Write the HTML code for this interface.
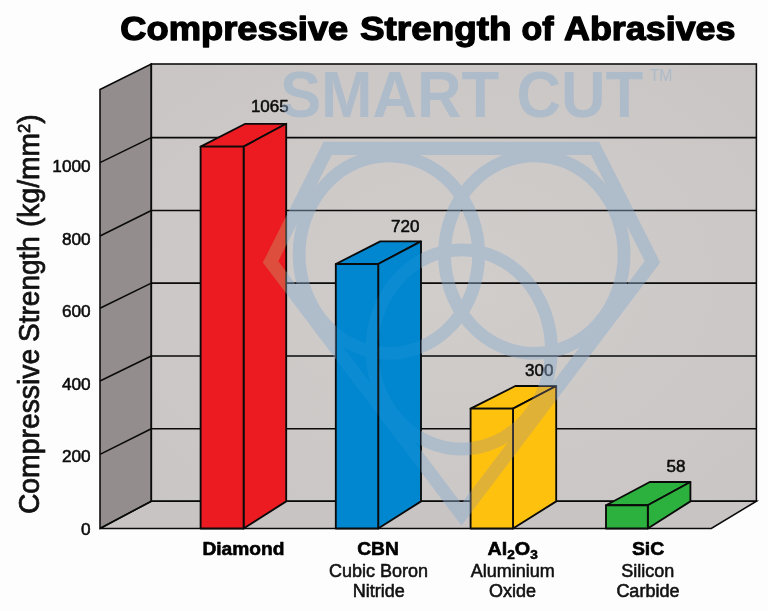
<!DOCTYPE html>
<html>
<head>
<meta charset="utf-8">
<title>Compressive Strength of Abrasives</title>
<style>
  html, body { margin: 0; padding: 0; background: #fdfdfd; }
  body { width: 768px; height: 611px; overflow: hidden; font-family: "Liberation Sans", sans-serif; }
  svg { display: block; will-change: transform; }
  text { font-family: "Liberation Sans", sans-serif; }
  .ln { stroke: #0a0a0a; stroke-width: 1.55; stroke-linejoin: miter; fill: none; }
  .reg { stroke: #0c0c0c; stroke-width: 0.55; stroke-linejoin: round; paint-order: stroke fill; }
  .title { font-weight: bold; stroke: #000; stroke-width: 1.3; stroke-linejoin: round; paint-order: stroke fill; }
  .ytitle { stroke: #111; stroke-width: 0.75; stroke-linejoin: round; paint-order: stroke fill; }
  .heavy { font-weight: bold; stroke: #000; stroke-width: 0.6; stroke-linejoin: round; paint-order: stroke fill; }
</style>
</head>
<body>
<svg width="768" height="611" viewBox="0 0 768 611">
  <defs>
    <radialGradient id="wallg" cx="0.5" cy="0.5" r="0.75">
      <stop offset="0" stop-color="#d1cdcb"/>
      <stop offset="1" stop-color="#c9c5c4"/>
    </radialGradient>
    <!-- watermark shapes -->
    <clipPath id="gemclip">
      <polygon points="323.6,141.8 599,141.8 660.2,262.4 461.5,525.5 262.8,262.6"/>
    </clipPath>
    <g id="wm" fill="none">
      <polygon points="323.6,141.8 599,141.8 660.2,262.4 461.5,525.5 262.8,262.6" stroke-width="26.4" stroke-linejoin="miter" clip-path="url(#gemclip)"/>
      <ellipse cx="388.9" cy="254.6" rx="89.8" ry="98.8" stroke-width="12.8"/>
      <ellipse cx="534.3" cy="254.6" rx="89.8" ry="98.8" stroke-width="12.8"/>
      <ellipse cx="461.6" cy="349.5" rx="89.8" ry="99.6" stroke-width="12.8"/>
    </g>
    <clipPath id="cred"><polygon points="200.6,146.6 245.3,123.8 286.2,123.8 286.2,501.4 243.6,528.5 200.6,528.5"/></clipPath>
    <clipPath id="cblue"><polygon points="335.8,264 380.3,241.4 421,241.4 421,501.4 378.2,528.5 335.8,528.5"/></clipPath>
    <clipPath id="cyel"><polygon points="470.6,408.6 515.3,386 556.2,386 556.2,501.4 513,528.5 470.6,528.5"/></clipPath>
    <clipPath id="cgrn"><polygon points="606,505.2 649.8,482 690.4,482 690.4,501.4 647.8,528.5 606,528.5"/></clipPath>
    <mask id="notbars" maskUnits="userSpaceOnUse" x="0" y="0" width="768" height="611">
      <polygon points="100,89.5 151.3,64 756.4,64 756.4,501.2 711.3,528.5 100,528.5" fill="#fff"/>
      <g fill="#000">
        <polygon points="200.6,146.6 245.3,123.8 286.2,123.8 286.2,501.4 243.6,528.5 200.6,528.5"/>
        <polygon points="335.8,264 380.3,241.4 421,241.4 421,501.4 378.2,528.5 335.8,528.5"/>
        <polygon points="470.6,408.6 515.3,386 556.2,386 556.2,501.4 513,528.5 470.6,528.5"/>
        <polygon points="606,505.2 649.8,482 690.4,482 690.4,501.4 647.8,528.5 606,528.5"/>
      </g>
    </mask>
  </defs>

  <rect width="768" height="611" fill="#fdfdfd"/>

  <!-- back wall -->
  <rect x="151.3" y="64" width="605.1" height="437.2" fill="url(#wallg)"/>
  <!-- left wall -->
  <polygon points="100,89.5 151.3,64 151.3,501.2 100,528.5" fill="#938d8d"/>
  <!-- floor -->
  <polygon points="100,528.5 151.3,501.2 756.4,501.2 711.3,528.5" fill="#c8c4c3"/>

  <!-- grid lines: back wall -->
  <g class="ln">
    <path d="M151.3,137.6H756.4 M151.3,210.5H756.4 M151.3,283.1H756.4 M151.3,356H756.4 M151.3,428.8H756.4"/>
    <!-- left wall grid -->
    <path d="M100,162.6L151.3,137.6 M100,236L151.3,210.5 M100,308.3L151.3,283.1 M100,381L151.3,356 M100,454.4L151.3,428.8"/>
    <!-- frames -->
    <rect x="151.3" y="64" width="605.1" height="437.2"/>
    <polygon points="100,89.5 151.3,64 151.3,501.2 100,528.5"/>
    <polygon points="100,528.5 151.3,501.2 756.4,501.2 711.3,528.5"/>
  </g>

  <!-- bars -->
  <g stroke="#0a0a0a" stroke-width="1.85" stroke-linejoin="round">
    <!-- red -->
    <g fill="#ec1b22">
      <polygon points="200.6,146.6 243.6,146.6 286.2,123.8 245.3,123.8"/>
      <polygon points="243.6,146.6 286.2,123.8 286.2,501.4 243.6,528.5"/>
      <rect x="200.6" y="146.6" width="43" height="381.9"/>
    </g>
    <!-- blue -->
    <g fill="#0087d0">
      <polygon points="335.8,264 378.2,264 421,241.4 380.3,241.4"/>
      <polygon points="378.2,264 421,241.4 421,501.4 378.2,528.5"/>
      <rect x="335.8" y="264" width="42.4" height="264.5"/>
    </g>
    <!-- yellow -->
    <g fill="#fec20e">
      <polygon points="470.6,408.6 513,408.6 556.2,386 515.3,386"/>
      <polygon points="513,408.6 556.2,386 556.2,501.4 513,528.5"/>
      <rect x="470.6" y="408.6" width="42.4" height="119.9"/>
    </g>
    <!-- green -->
    <g fill="#2db13e">
      <polygon points="606,505.2 647.8,505.2 690.4,482 649.8,482"/>
      <polygon points="647.8,505.2 690.4,482 690.4,501.4 647.8,528.5"/>
      <rect x="606" y="505.2" width="41.8" height="23.3"/>
    </g>
  </g>

  <!-- value labels -->
  <g font-size="17" class="reg" fill="#0c0c0c" text-anchor="middle">
    <text x="269.8" y="111.7">1065</text>
    <text x="405.3" y="231.8">720</text>
    <text x="539.2" y="375.9">300</text>
    <text x="676" y="472">58</text>
  </g>

  <!-- watermark overlay (on top of chart) -->
  <g mask="url(#notbars)">
    <g opacity="0.46">
      <use href="#wm" stroke="#8cadce"/>
      <text x="279.9" y="117.4" font-size="64.6" font-weight="bold" fill="#8cadce" textLength="363.3" lengthAdjust="spacingAndGlyphs">SMART CUT</text>
      <text x="649.7" y="80.9" font-size="16.5" fill="#8cadce" textLength="22.8" lengthAdjust="spacingAndGlyphs">TM</text>
    </g>
  </g>
  <g clip-path="url(#cred)" opacity="0.3"><use href="#wm" stroke="#bdc57f"/></g>
  <g clip-path="url(#cblue)" opacity="0.07"><use href="#wm" stroke="#a0c0e0"/></g>
  <g clip-path="url(#cyel)" opacity="0.3"><use href="#wm" stroke="#9d8d97"/></g>

  <!-- y ticks -->
  <g font-size="17.2" class="reg" fill="#0c0c0c" text-anchor="end">
    <text x="90.6" y="172.3">1000</text>
    <text x="90.6" y="245.1">800</text>
    <text x="90.6" y="317.3">600</text>
    <text x="90.6" y="389.6">400</text>
    <text x="90.6" y="461.8">200</text>
    <text x="90.6" y="535.2">0</text>
  </g>

  <!-- y axis title -->
  <g font-size="29.2" class="ytitle" fill="#111">
    <text transform="translate(39,514.1) rotate(-90)" textLength="165.3" lengthAdjust="spacingAndGlyphs">Compressive</text>
    <text transform="translate(39,341.9) rotate(-90)" textLength="105.8" lengthAdjust="spacingAndGlyphs">Strength</text>
    <text transform="translate(39,227.1) rotate(-90)" textLength="112.8" lengthAdjust="spacingAndGlyphs">(kg/mm<tspan font-size="17" dy="-9.5">2</tspan><tspan dy="9.5">)</tspan></text>
  </g>

  <!-- title -->
  <g font-size="33.6" class="title" fill="#000">
    <text x="120.3" y="39.5" textLength="228" lengthAdjust="spacingAndGlyphs">Compressive</text>
    <text x="360" y="39.5" textLength="151.5" lengthAdjust="spacingAndGlyphs">Strength</text>
    <text x="521.5" y="39.5" textLength="32" lengthAdjust="spacingAndGlyphs">of</text>
    <text x="564" y="39.5" textLength="171.5" lengthAdjust="spacingAndGlyphs">Abrasives</text>
  </g>

  <!-- category labels -->
  <g fill="#000" text-anchor="middle">
    <g font-size="18.2" class="heavy">
      <text x="243.4" y="555.4" textLength="82" lengthAdjust="spacingAndGlyphs">Diamond</text>
      <text x="378" y="555.4" textLength="41.6" lengthAdjust="spacingAndGlyphs">CBN</text>
      <text x="512.7" y="555.4" textLength="50.2" lengthAdjust="spacingAndGlyphs">Al<tspan font-size="12.5" dy="3.5">2</tspan><tspan dy="-3.5">O</tspan><tspan font-size="12.5" dy="3.5">3</tspan></text>
      <text x="648.1" y="555.4" textLength="32.4" lengthAdjust="spacingAndGlyphs">SiC</text>
    </g>
    <g font-size="18" class="reg" fill="#111">
      <text x="378.5" y="576.5">Cubic Boron</text>
      <text x="378.8" y="596.7">Nitride</text>
      <text x="512.7" y="576.5">Aluminium</text>
      <text x="512.5" y="596.7">Oxide</text>
      <text x="647.8" y="576.5">Silicon</text>
      <text x="647.9" y="596.7">Carbide</text>
    </g>
  </g>
</svg>
</body>
</html>
